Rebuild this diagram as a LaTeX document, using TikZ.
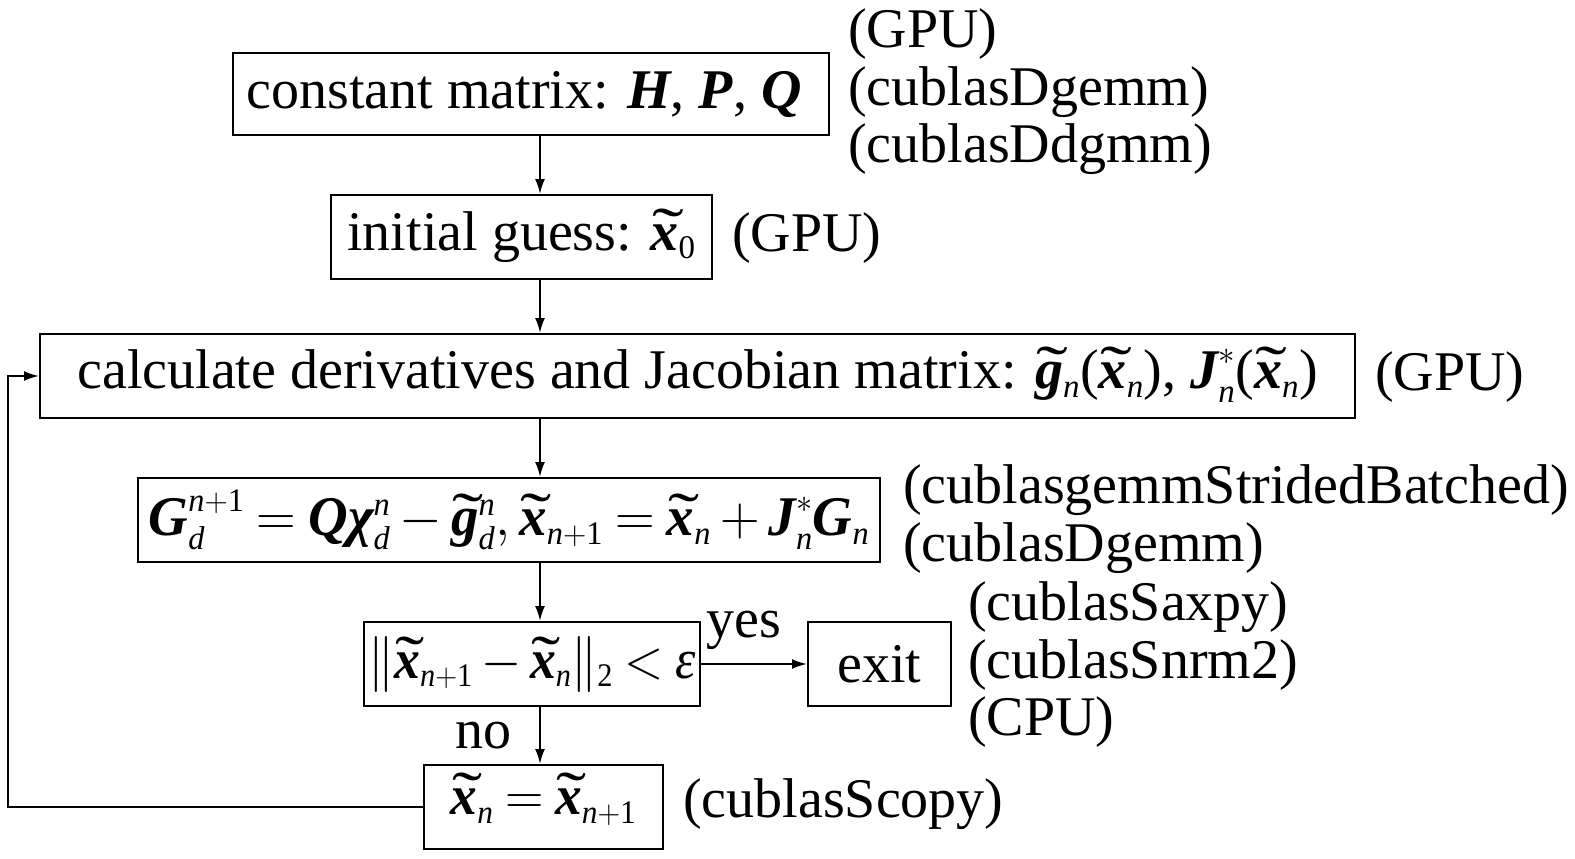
\RequirePackage{fix-cm}
\documentclass[tikz,border=0pt]{standalone}
\usepackage{amsmath}
\usepackage{graphicx}
\usepackage{fontspec}
\setmainfont{Liberation Serif}
\usetikzlibrary{arrows.meta}
\DeclareMathSizes{56}{56}{33}{25}
\newcommand\bv[1]{\text{\normalfont\bfseries\itshape #1}}
\newcommand\iv[1]{\text{\normalfont\itshape #1}}
\newcommand\ud[1]{\text{\normalfont #1}}
\newcommand\tx[1]{\text{\normalfont\ooalign{\bfseries\itshape #1\cr\hidewidth\kern0.12em\scalebox{1.7}[1.1]{\char"02DC}\hidewidth\cr}}}
\newcommand\tight{\medmuskip=3mu plus 2mu minus 3mu\thickmuskip=4mu plus 2mu}
\begin{document}
\begin{tikzpicture}[x=1pt,y=-1pt,
  every node/.style={font=\fontsize{56}{57.5}\selectfont, inner sep=0pt},
  box/.style={draw, line width=2pt, align=center},
  lab/.style={align=left, anchor=west},
  arr/.style={line width=2pt, -{Latex[length=15pt,width=10pt]}},
  ln/.style={line width=2pt}]
\useasboundingbox (0,0) rectangle (1575,859);
\node[box, minimum width=596pt, minimum height=82pt] (b1) at (531,94)
  {constant matrix: $\bv{H}$, $\bv{P}$, $\bv{Q}$\hspace{14pt}};
\node[box, minimum width=381pt, minimum height=84pt] (b2) at (521.5,237)
  {initial guess: $\tx{x}_{\ud{0}}$};
\node[box, minimum width=1315pt, minimum height=84pt] (b3) at (697.5,376)
  {calculate derivatives and Jacobian matrix: $\tight\tx{g}_{\iv{n}}\ud{(}\tx{x}_{\iv{n}}\ud{)}$, $\tight\bv{J}_{\iv{n}}^{*}\ud{(}\tx{x}_{\iv{n}}\ud{)}$};
\node[box, minimum width=742pt, minimum height=84pt] (b4) at (509,520)
  {\scalebox{0.98}[1]{$\tight\bv{G}_{\iv{d}}^{\iv{n}+\ud{1}} = \bv{Q}\bv{χ}_{\iv{d}}^{\iv{n}} - \tx{g}_{\iv{d}}^{\iv{n}}, \tx{x}_{\iv{n}+\ud{1}} = \tx{x}_{\iv{n}} + \bv{J}_{\iv{n}}^{*}\bv{G}_{\iv{n}}$}};
\node[box, minimum width=336pt, minimum height=84pt] (b5) at (532,664)
  {\scalebox{0.92}[1]{$\tight\|\tx{x}_{\iv{n}+\ud{1}} - \tx{x}_{\iv{n}}\|_{\ud{2}} < \iv{ε}$}};
\node[box, minimum width=143pt, minimum height=84pt] (ex) at (879.5,664) {exit};
\node[box, minimum width=239pt, minimum height=84pt] (b6) at (543.5,807)
  {\scalebox{0.95}[1]{$\tight\tx{x}_{\iv{n}} = \tx{x}_{\iv{n}+\ud{1}}$}};

\node[lab] (l1) at (848,92) {(GPU)\\(cublasDgemm)\\(cublasDdgmm)};
\node[lab] (l2) at (732,238) {(GPU)};
\node[lab] (l3) at (1375,377) {(GPU)};
\node[lab] (l4) at (903,519) {(cublasgemmStridedBatched)\\(cublasDgemm)};
\node[lab] (l5) at (968,665) {(cublasSaxpy)\\(cublasSnrm2)\\(CPU)};
\node[lab] (l6) at (683,804) {(cublasScopy)};
\node (yes) at (744,630) {yes};
\node (no) at (483,736) {no};

\coordinate (cx) at (540,0);
\coordinate (lx) at (8,0);
\draw[arr] (cx |- b1.south) -- (cx |- b2.north);
\draw[arr] (cx |- b2.south) -- (cx |- b3.north);
\draw[arr] (cx |- b3.south) -- (cx |- b4.north);
\draw[arr] (cx |- b4.south) -- (cx |- b5.north);
\draw[arr] (cx |- b5.south) -- (cx |- b6.north);
\draw[arr] (b5.east) -- (ex.west);
\draw[arr] (b6.west) -- (lx |- b6.west) -- (lx |- b3.west) -- (b3.west);
\end{tikzpicture}
\end{document}
